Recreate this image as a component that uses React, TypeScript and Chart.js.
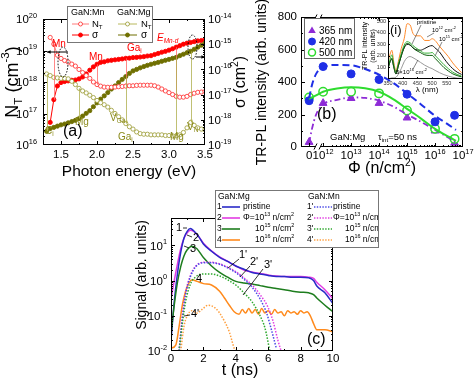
import React, { useEffect, useRef } from 'react';
import { Chart, registerables } from 'chart.js';

Chart.register(...registerables);

const FONT = "'Liberation Sans', Arial, Helvetica, sans-serif";

/* ---------------- Panel (a) data ---------------- */
const ENERGY = [1.30, 1.35, 1.40, 1.45, 1.50, 1.55, 1.60, 1.65, 1.70, 1.75, 1.80, 1.85, 1.90, 1.95, 2.00, 2.05, 2.10, 2.15, 2.20, 2.25, 2.30, 2.35, 2.40, 2.45, 2.50, 2.55, 2.60, 2.65, 2.70, 2.75, 2.80, 2.85, 2.90, 2.95, 3.00, 3.05, 3.10, 3.15, 3.20, 3.25, 3.30, 3.35, 3.40, 3.45, 3.50];
const MN_NT = [null, 2.6e19, 1.6e19, 7.1e18, 5.6e18, 4.8e18, 4.3e18, 3.7e18, 3.2e18, 2.5e18, 2.0e18, 1.6e18, 1.3e18, 1.0e18, 8.3e17, 7.4e17, 6.9e17, 6.8e17, 6.8e17, 6.9e17, 7.1e17, 7.2e17, 7.4e17, 7.6e17, 7.6e17, 7.8e17, 7.9e17, 7.9e17, 7.9e17, 7.9e17, 7.6e17, 6.9e17, 6.0e17, 5.2e17, 4.6e17, 4.0e17, 3.5e17, 3.3e17, 3.3e17, 3.5e17, 4.0e17, 4.4e17, 4.7e17, 4.8e17, 5.0e17];
const MN_SIGMA = [null, 7.9e-19, 6.3e-18, 2.2e-17, 3.0e-17, 3.3e-17, 3.5e-17, 3.7e-17, 3.8e-17, 4.2e-17, 5.0e-17, 6.6e-17, 9.3e-17, 1.26e-16, 1.6e-16, 1.9e-16, 2.0e-16, 2.2e-16, 2.3e-16, 2.4e-16, 2.5e-16, 2.6e-16, 2.75e-16, 2.8e-16, 2.95e-16, 3.0e-16, 3.1e-16, 3.2e-16, 3.4e-16, 3.5e-16, 3.9e-16, 4.3e-16, 4.8e-16, 5.2e-16, 5.8e-16, 6.6e-16, 7.6e-16, 8.7e-16, 1.0e-15, 1.1e-15, 1.17e-15, 1.26e-15, 1.35e-15, 1.4e-15, 1.48e-15];
const MG_NT = [1.8e18, 1.6e18, 1.4e18, 1.35e18, 1.3e18, 1.3e18, 1.26e18, 1.05e18, 8.3e17, 6.3e17, 5.2e17, 4.5e17, 3.8e17, 3.2e17, 2.6e17, 2.2e17, 1.9e17, 1.6e17, 1.26e17, 1.0e17, 7.9e16, 6.3e16, 4.8e16, 3.8e16, 3.2e16, 2.6e16, 2.3e16, 2.2e16, 2.2e16, 2.1e16, 2.1e16, 2.1e16, 2.1e16, 2.0e16, 2.0e16, 1.95e16, 1.95e16, 2.1e16, 2.5e16, 3.5e16, 5.2e16, 4.2e16, 3.5e16, 3.2e16, 3.0e16];
const MG_SIGMA = [3.5e-19, 4.5e-19, 5.0e-19, 5.6e-19, 6.3e-19, 6.8e-19, 7.6e-19, 8.5e-19, 9.5e-19, 1.12e-18, 1.4e-18, 1.8e-18, 2.3e-18, 3.3e-18, 4.7e-18, 6.6e-18, 8.9e-18, 1.2e-17, 1.66e-17, 2.2e-17, 3.0e-17, 4.0e-17, 5.2e-17, 6.9e-17, 8.7e-17, 1.0e-16, 1.15e-16, 1.3e-16, 1.45e-16, 1.6e-16, 1.75e-16, 1.9e-16, 2.1e-16, 2.3e-16, 2.5e-16, 2.75e-16, 3.0e-16, 3.5e-16, 4.0e-16, 4.6e-16, 5.2e-16, 6.3e-16, 7.6e-16, 9.1e-16, 1.1e-15];
const A_X_TICKS = [1.5, 2.0, 2.5, 3.0, 3.5];
const A_X_LABELS = ['1.5', '2.0', '2.5', '3.0', '3.5'];
const A_Y_TICKS = [1e16, 1e17, 1e18, 1e19, 1e20];
const A_Y_LABELS = ['10^{16}', '10^{17}', '10^{18}', '10^{19}', '10^{20}'];
const A_Y2_TICKS = [1e-19, 1e-18, 1e-17, 1e-16, 1e-15, 1e-14];
const A_Y2_LABELS = ['10^{-19}', '10^{-18}', '10^{-17}', '10^{-16}', '10^{-15}', '10^{-14}'];

/* ---------------- Panel (b) data ---------------- */
const FLUENCE = [0, 1e12, 1e13, 1e14, 1e15, 1e16, 5e16];
const PL_365 = [30, 270, 300, 270, 180, 100, 25];
const PL_420 = [285, 495, 450, 415, 325, 155, 195];
const PL_500 = [305, 340, 340, 330, 225, 112, 50];
// fitted guide curves, x = log10(fluence); 11.5 is where fluence 0 sits on the broken axis
const FIT_LOG_PHI = [11.5, 11.6, 11.75, 12, 12.5, 13, 13.5, 14, 14.5, 15, 15.5, 16, 16.5, 16.75];
const FIT_365 = [25, 110, 200, 262, 290, 305, 302, 285, 250, 200, 155, 105, 55, 25];
const FIT_420 = [300, 380, 450, 492, 505, 503, 480, 445, 395, 330, 262, 192, 135, 105];
const FIT_500 = [295, 305, 318, 340, 360, 368, 362, 340, 295, 235, 175, 112, 62, 38];
const PHI_TICKS = [0, 1e12, 1e13, 1e14, 1e15, 1e16, 1e17];
const PHI_LABELS = ['0', '10^{12}', '10^{13}', '10^{14}', '10^{15}', '10^{16}', '10^{17}'];
const PL_TICKS = [0, 200, 400, 600, 800];
const ZERO_POS = 11.5;
const phiPos = (p: number) => (p === 0 ? ZERO_POS : Math.log10(p));

/* ---------------- Inset (i) data ---------------- */
const LAMBDA = [350, 357, 363, 370, 377, 385, 395, 405, 415, 425, 435, 445, 460, 475, 490, 500, 510, 525, 540, 555, 570, 585, 600];
const SPEC_1E12 = [150, 215, 250, 140, 70, 150, 265, 350, 480, 470, 395, 375, 375, 335, 335, 350, 335, 285, 240, 195, 140, 95, 55];
const SPEC_1E15 = [90, 150, 170, 100, 45, 110, 200, 270, 300, 295, 270, 255, 250, 265, 285, 290, 270, 235, 180, 130, 90, 60, 40];
const SPEC_PRISTINE = [100, 170, 210, 120, 60, 130, 220, 295, 325, 315, 290, 270, 245, 225, 225, 230, 205, 165, 125, 90, 60, 40, 25];
const SPEC_PRISTINE_B = [85, 150, 180, 100, 45, 115, 200, 275, 310, 300, 270, 250, 230, 210, 205, 205, 180, 140, 100, 70, 45, 30, 18];
const SPEC_5E16 = [0, 5, 10, 10, 15, 40, 90, 150, 185, 195, 185, 170, 145, 120, 100, 90, 75, 55, 38, 25, 15, 8, 4];
const LAMBDA_TICKS = [350, 400, 450, 500, 550];
const INSET_Y_TICKS = [100, 200, 300, 400, 500];

/* ---------------- Panel (c) data ---------------- */
const T_MG_1 = [0, 0.2, 0.4, 0.6, 0.8, 1.0, 1.2, 1.4, 1.7, 2.0, 2.5, 3.0, 3.5, 4.0, 4.5, 5.0, 5.5, 6.0, 6.5, 7.0, 7.5, 8.0, 8.5, 8.8, 9.0, 9.5, 10];
const S_MG_1 = [0.02, 0.25, 1.6, 6.3, 16, 25, 30, 26, 18, 11, 6.8, 4.6, 3.5, 2.6, 2.1, 1.7, 1.55, 1.4, 1.3, 1.3, 1.25, 1.25, 1.2, 1.0, 0.7, 0.45, 0.22];
const T_MG_2 = [0, 0.2, 0.4, 0.6, 0.8, 1.0, 1.2, 1.4, 1.7, 2.0, 2.5, 3.0, 3.5, 4.0, 4.5, 5.0, 5.5, 6.0, 6.5, 7.0, 7.5, 8.0, 8.5, 8.8, 9.0, 9.5, 10];
const S_MG_2 = [0.3, 1.0, 3.0, 8, 16, 23, 27, 25, 18, 11.5, 7, 4.7, 3.5, 2.6, 2.0, 1.75, 1.6, 1.45, 1.35, 1.3, 1.3, 1.3, 1.25, 1.15, 0.9, 0.55, 0.3];
const T_MG_3 = [0, 0.2, 0.4, 0.6, 0.8, 1.0, 1.3, 1.6, 2.0, 2.5, 3.0, 3.5, 4.0, 4.5, 5.0, 5.5, 6.0, 6.5, 7.0, 7.5, 8.0, 8.5, 8.8, 9.0, 9.5, 10];
const S_MG_3 = [0.03, 0.2, 0.9, 2.5, 5, 7.5, 9.5, 8, 4.5, 2.6, 1.7, 1.25, 0.95, 0.85, 0.8, 0.72, 0.65, 0.6, 0.55, 0.5, 0.47, 0.45, 0.4, 0.32, 0.2, 0.13];
const T_MG_4 = [0, 0.3, 0.5, 0.7, 0.9, 1.1, 1.3, 1.6, 2.0, 2.5, 3.0, 3.3, 3.6, 3.9, 4.2, 4.4, 4.6, 4.8, 5.0, 5.2, 5.4, 5.6, 5.8, 6.0, 6.2, 6.4, 6.6, 6.8, 7.0, 7.2, 7.4, 7.6, 7.8, 8.0, 8.2, 8.4, 8.6, 8.8, 9.0, 9.5, 10];
const S_MG_4 = [0.012, 0.015, 0.05, 0.2, 0.5, 0.85, 1.05, 0.95, 0.82, 0.75, 0.5, 0.32, 0.2, 0.13, 0.11, 0.15, 0.12, 0.16, 0.12, 0.15, 0.11, 0.16, 0.12, 0.14, 0.11, 0.15, 0.12, 0.13, 0.1, 0.14, 0.12, 0.13, 0.11, 0.14, 0.12, 0.13, 0.1, 0.06, 0.04, 0.04, 0.035];
const T_MN_1 = [0.5, 0.7, 0.9, 1.2, 1.5, 2.0, 2.5, 3.0, 3.5, 4.0, 4.5, 5.0, 5.5, 5.9, 6.2, 6.5];
const S_MN_1 = [0.01, 0.08, 0.4, 1.3, 2.4, 3.2, 3.2, 2.9, 2.3, 1.7, 1.1, 0.65, 0.3, 0.12, 0.04, 0.012];
const T_MN_2 = [0.5, 0.7, 0.9, 1.2, 1.5, 2.0, 2.5, 3.0, 3.5, 4.0, 4.5, 5.0, 5.5, 6.0, 6.3, 6.6, 6.8];
const S_MN_2 = [0.01, 0.1, 0.45, 1.4, 2.5, 3.3, 3.3, 3.0, 2.4, 1.8, 1.2, 0.75, 0.4, 0.17, 0.07, 0.02, 0.01];
const T_MN_3 = [0.5, 0.7, 0.9, 1.2, 1.5, 2.0, 2.5, 3.0, 3.5, 4.0, 4.5, 5.0, 5.5, 5.8, 6.1];
const S_MN_3 = [0.01, 0.06, 0.25, 0.8, 1.25, 1.55, 1.55, 1.35, 1.05, 0.75, 0.45, 0.25, 0.1, 0.045, 0.01];
const T_MN_4 = [0.6, 0.8, 1.0, 1.3, 1.6, 1.9, 2.3, 2.7, 3.0, 3.3, 3.6, 3.9, 4.0];
const S_MN_4 = [0.01, 0.05, 0.1, 0.14, 0.12, 0.15, 0.2, 0.17, 0.12, 0.07, 0.035, 0.012, 0.01];
const C_X_TICKS = [0, 2, 4, 6, 8, 10];
const C_Y_TICKS = [0.01, 0.1, 1, 10];
const C_Y_LABELS = ['10^{-2}', '10^{-1}', '10^{0}', '10^{1}'];

/* ---------------- colours ---------------- */
const RED = '#ff0000';
const RED_LIGHT = '#ff7a7a';
const RED_OPEN = '#ff3c3c';
const OLIVE = '#6f6f00';
const OLIVE_LIGHT = '#b8b85c';
const OLIVE_OPEN = '#a3a343';
const OLIVE_TEXT = '#8a8a1a';
const PURPLE = '#8e2bd6';
const BLUE_B = '#1f2fe6';
const GREEN_B = '#2fdc2f';
const C_BLUE = '#2a2ac8';
const C_MAG = '#e23ce2';
const C_GREEN = '#1d7d1d';
const C_ORANGE = '#ff8a1c';

/* ---------------- helpers ---------------- */
function fnt(size: number, italic = false) {
  return `${italic ? 'italic ' : ''}${size}px ${FONT}`;
}

function parseRich(s: string): [string, number][] {
  const out: [string, number][] = [];
  let buf = '';
  let i = 0;
  while (i < s.length) {
    const c = s[i];
    if ((c === '^' || c === '_') && s[i + 1] === '{') {
      if (buf) { out.push([buf, 0]); buf = ''; }
      const j = s.indexOf('}', i);
      out.push([s.slice(i + 2, j), c === '^' ? 1 : -1]);
      i = j + 1;
    } else { buf += c; i++; }
  }
  if (buf) out.push([buf, 0]);
  return out;
}

function rich(ctx: any, s: string, x: number, y: number, size: number, align = 'left', color = '#000', rot = 0, italic = false) {
  const segs = parseRich(s);
  ctx.save();
  ctx.translate(x, y);
  if (rot) ctx.rotate(rot);
  ctx.textBaseline = 'middle';
  ctx.textAlign = 'left';
  ctx.fillStyle = color;
  const ws = segs.map(([t, m]) => { ctx.font = fnt(m ? size * 0.64 : size, italic); return ctx.measureText(t).width; });
  const total = ws.reduce((a, b) => a + b, 0);
  let cx = align === 'left' ? 0 : align === 'center' ? -total / 2 : -total;
  segs.forEach(([t, m], k) => {
    ctx.font = fnt(m ? size * 0.64 : size, italic);
    const dy = m === 1 ? -size * 0.38 : m === -1 ? size * 0.3 : 0;
    ctx.fillText(t, cx, dy);
    cx += ws[k];
  });
  ctx.restore();
}

function frame(ctx: any, ca: any) {
  ctx.save();
  ctx.strokeStyle = '#000';
  ctx.lineWidth = 1;
  ctx.strokeRect(Math.round(ca.left) + 0.5, Math.round(ca.top) + 0.5, Math.round(ca.right - ca.left) - 1, Math.round(ca.bottom - ca.top) - 1);
  ctx.restore();
}

function ticksX(ctx: any, sc: any, ca: any, vals: number[], len: number, top = true) {
  ctx.save();
  ctx.strokeStyle = '#000';
  ctx.lineWidth = 1;
  ctx.beginPath();
  for (const v of vals) {
    const x = Math.round(sc.getPixelForValue(v)) + 0.5;
    if (x < ca.left || x > ca.right) continue;
    ctx.moveTo(x, ca.bottom); ctx.lineTo(x, ca.bottom - len);
    if (top) { ctx.moveTo(x, ca.top); ctx.lineTo(x, ca.top + len); }
  }
  ctx.stroke();
  ctx.restore();
}

function ticksY(ctx: any, sc: any, ca: any, vals: number[], len: number, left = true, right = true) {
  ctx.save();
  ctx.strokeStyle = '#000';
  ctx.lineWidth = 1;
  ctx.beginPath();
  for (const v of vals) {
    const y = Math.round(sc.getPixelForValue(v)) + 0.5;
    if (y < ca.top || y > ca.bottom) continue;
    if (left) { ctx.moveTo(ca.left, y); ctx.lineTo(ca.left + len, y); }
    if (right) { ctx.moveTo(ca.right, y); ctx.lineTo(ca.right - len, y); }
  }
  ctx.stroke();
  ctx.restore();
}

function logMinors(d0: number, d1: number) {
  const out: number[] = [];
  for (let d = d0; d < d1; d++) for (let k = 2; k < 10; k++) out.push(k * Math.pow(10, d));
  return out;
}

function arrow(ctx: any, x1: number, y1: number, x2: number, y2: number, h = 3) {
  ctx.beginPath(); ctx.moveTo(x1, y1); ctx.lineTo(x2, y2); ctx.stroke();
  const a = Math.atan2(y2 - y1, x2 - x1);
  ctx.beginPath();
  ctx.moveTo(x2, y2);
  ctx.lineTo(x2 - h * Math.cos(a - 0.45), y2 - h * Math.sin(a - 0.45));
  ctx.lineTo(x2 - h * Math.cos(a + 0.45), y2 - h * Math.sin(a + 0.45));
  ctx.closePath();
  ctx.fill();
}

function line(ctx: any, x1: number, y1: number, x2: number, y2: number, color = '#000', w = 0.8, dash: number[] = []) {
  ctx.save();
  ctx.strokeStyle = color; ctx.lineWidth = w; ctx.setLineDash(dash);
  ctx.beginPath(); ctx.moveTo(x1, y1); ctx.lineTo(x2, y2); ctx.stroke();
  ctx.restore();
}

function dot(ctx: any, x: number, y: number, r: number, fill: string, stroke: string, lw = 1) {
  ctx.save();
  ctx.beginPath(); ctx.arc(x, y, r, 0, Math.PI * 2);
  ctx.fillStyle = fill; ctx.fill();
  ctx.strokeStyle = stroke; ctx.lineWidth = lw; ctx.stroke();
  ctx.restore();
}

const HIDDEN = { grid: { display: false, drawTicks: false }, border: { display: false }, ticks: { display: false } };
const BASE = { animation: false, responsive: false, events: [], plugins: { legend: { display: false }, tooltip: { enabled: false } } };

/* ---------------- Panel (a) ---------------- */
function seriesA(vals: any[], axis: string, lineColor: string, border: string, fill: string) {
  return {
    data: ENERGY.map((x, i) => ({ x, y: vals[i] })).filter((p) => p.y != null),
    yAxisID: axis, borderColor: lineColor, borderWidth: 1, pointRadius: 2.1, pointBorderWidth: 0.9,
    pointBackgroundColor: fill, pointBorderColor: border, pointStyle: 'circle', tension: 0, fill: false,
  };
}

function drawA(chart: any) {
  const ctx = chart.ctx, ca = chart.chartArea;
  const sx = chart.scales.x, sy = chart.scales.y, sy2 = chart.scales.y2;
  const marks = [
    { e: 1.40, a: MN_NT, aa: sy, b: MN_SIGMA, bb: sy2, c: '#ff6a6a' },
    { e: 2.00, a: MN_SIGMA, aa: sy2, b: MN_NT, bb: sy, c: '#ff6a6a' },
    { e: 2.40, a: MN_SIGMA, aa: sy2, b: MN_NT, bb: sy, c: '#ff6a6a' },
    { e: 3.10, a: MN_SIGMA, aa: sy2, b: MN_NT, bb: sy, c: '#ff6a6a' },
    { e: 1.30, a: MG_NT, aa: sy, b: MG_SIGMA, bb: sy2, c: '#b0b050' },
    { e: 1.75, a: MG_NT, aa: sy, b: MG_SIGMA, bb: sy2, c: '#b0b050' },
    { e: 2.40, a: MG_SIGMA, aa: sy2, b: MG_NT, bb: sy, c: '#b0b050' },
    { e: 3.10, a: MG_SIGMA, aa: sy2, b: MG_NT, bb: sy, c: '#b0b050' },
    { e: 3.30, a: MG_SIGMA, aa: sy2, b: MG_NT, bb: sy, c: '#b0b050' },
  ];
  ctx.save();
  ctx.lineWidth = 0.8;
  marks.forEach((m) => {
    const k = ENERGY.indexOf(m.e);
    const x = Math.round(sx.getPixelForValue(m.e)) + 0.5;
    const y1 = m.aa.getPixelForValue(m.a[k]);
    const y2 = m.bb.getPixelForValue(m.b[k]);
    ctx.strokeStyle = m.c; ctx.fillStyle = m.c;
    arrow(ctx, x, y1, x, y2, 3);
  });
  ctx.restore();

  frame(ctx, ca);
  ticksX(ctx, sx, ca, A_X_TICKS, 4);
  ticksX(ctx, sx, ca, [1.25, 1.75, 2.25, 2.75, 3.25], 2);
  ticksY(ctx, sy, ca, A_Y_TICKS, 4, true, false);
  ticksY(ctx, sy, ca, logMinors(16, 20), 2, true, false);
  ticksY(ctx, sy2, ca, A_Y2_TICKS, 4, false, true);
  ticksY(ctx, sy2, ca, logMinors(-19, -14), 2, false, true);

  A_X_TICKS.forEach((v, k) => rich(ctx, A_X_LABELS[k], sx.getPixelForValue(v), ca.bottom + 10, 11.5, 'center'));
  A_Y_TICKS.forEach((v, k) => rich(ctx, A_Y_LABELS[k], ca.left - 6, sy.getPixelForValue(v) + 1, 11.5, 'right'));
  A_Y2_TICKS.forEach((v, k) => rich(ctx, A_Y2_LABELS[k], ca.right + 3, sy2.getPixelForValue(v) + 1, 11.5, 'left'));

  rich(ctx, 'Photon energy (eV)', 129, 172, 15.5, 'center');
  rich(ctx, 'N_{T} (cm^{-3})', 13, 82, 18, 'center', '#000', -Math.PI / 2);
  rich(ctx, 'σ (cm^{2})', 241, 82, 16, 'center', '#000', -Math.PI / 2);

  // annotation labels
  rich(ctx, 'Mn', 52, 44, 10, 'left', RED);
  rich(ctx, 'Mn', 89, 57, 10, 'left', RED);
  rich(ctx, 'Ga_{i}', 127, 48, 10, 'left', RED);
  rich(ctx, 'E_{Mn-d}', 157, 38, 10, 'left', RED, 0, true);
  rich(ctx, 'C_{i}', 45, 131, 10, 'left', OLIVE_TEXT);
  rich(ctx, 'Mg', 75, 122, 10, 'left', OLIVE_TEXT);
  rich(ctx, 'V_{Ga}', 110, 118, 10, 'left', OLIVE_TEXT);
  rich(ctx, 'Ga_{i}', 118, 137, 10, 'left', OLIVE_TEXT);
  rich(ctx, 'Mg', 170, 137, 10, 'left', OLIVE_TEXT);
  rich(ctx, 'V_{N}', 187, 127, 10, 'left', OLIVE_TEXT);
  rich(ctx, '(a)', 63, 132, 16, 'left');

  // axis-pointing arrows and dotted ellipses
  ctx.save();
  ctx.strokeStyle = '#000'; ctx.fillStyle = '#000'; ctx.lineWidth = 1;
  arrow(ctx, 68, 52, 47, 52, 4);
  arrow(ctx, 196, 57, 205, 57, 4);
  ctx.setLineDash([1.5, 1.5]);
  ctx.beginPath(); ctx.ellipse(63, 62, 5, 15, 0, 0, Math.PI * 2); ctx.stroke();
  ctx.beginPath(); ctx.ellipse(192.5, 47, 4.5, 12, 0, 0, Math.PI * 2); ctx.stroke();
  ctx.restore();

  // legend
  ctx.save();
  ctx.fillStyle = '#fff'; ctx.fillRect(67, 6, 85, 36);
  ctx.strokeStyle = '#777'; ctx.lineWidth = 1; ctx.strokeRect(67.5, 6.5, 85, 36);
  ctx.restore();
  rich(ctx, 'GaN:Mn', 71, 13, 9);
  rich(ctx, 'GaN:Mg', 117, 13, 9);
  line(ctx, 72, 24, 89, 24, RED_LIGHT, 1);
  dot(ctx, 80.5, 24, 2, '#fff', RED_OPEN, 0.9);
  rich(ctx, 'N_{T}', 92, 24, 9.5);
  line(ctx, 118, 24, 137, 24, OLIVE_LIGHT, 1);
  dot(ctx, 127.5, 24, 2, '#fff', OLIVE_OPEN, 0.9);
  rich(ctx, 'N_{T}', 141, 24, 9.5);
  line(ctx, 72, 35, 89, 35, RED, 1);
  dot(ctx, 80.5, 35, 2, RED, RED, 0.9);
  rich(ctx, 'σ', 92, 35, 10);
  line(ctx, 118, 35, 137, 35, OLIVE, 1);
  dot(ctx, 127.5, 35, 2, OLIVE, OLIVE, 0.9);
  rich(ctx, 'σ', 141, 35, 10);
}

function makeA(canvas: any) {
  return new Chart(canvas, {
    type: 'line',
    data: {
      datasets: [
        seriesA(MG_NT, 'y', OLIVE_LIGHT, OLIVE_OPEN, '#ffffff'),
        seriesA(MN_NT, 'y', RED_LIGHT, RED_OPEN, '#ffffff'),
        seriesA(MG_SIGMA, 'y2', OLIVE, OLIVE, OLIVE),
        seriesA(MN_SIGMA, 'y2', RED, RED, RED),
      ] as any,
    },
    options: {
      ...BASE,
      layout: { padding: { top: 19, left: 0, right: 0, bottom: 0 } },
      scales: {
        x: { type: 'linear', position: 'bottom', min: 1.25, max: 3.5, ...HIDDEN, afterFit: (s: any) => { s.height = 45; } },
        y: { type: 'logarithmic', position: 'left', min: 1e16, max: 1e20, ...HIDDEN, afterFit: (s: any) => { s.width = 43; } },
        y2: { type: 'logarithmic', position: 'right', min: 1e-19, max: 1e-14, ...HIDDEN, afterFit: (s: any) => { s.width = 45; } },
      },
    } as any,
    plugins: [{ id: 'panelA', afterDraw: drawA }],
  });
}

/* ---------------- Panel (b) ---------------- */
function tri(ctx: any, x: number, y: number, r: number, color: string) {
  ctx.save();
  ctx.beginPath();
  ctx.moveTo(x, y - r); ctx.lineTo(x + r * 0.95, y + r * 0.65); ctx.lineTo(x - r * 0.95, y + r * 0.65);
  ctx.closePath(); ctx.fillStyle = color; ctx.fill();
  ctx.restore();
}

function drawB(chart: any) {
  const ctx = chart.ctx, ca = chart.chartArea;
  const sx = chart.scales.x, sy = chart.scales.y;
  frame(ctx, ca);
  ticksX(ctx, sx, ca, PHI_TICKS.map(phiPos), 4);
  const minX: number[] = [];
  for (let d = 12; d < 17; d++) for (let k = 2; k < 10; k++) minX.push(d + Math.log10(k));
  ticksX(ctx, sx, ca, minX, 2);
  ticksY(ctx, sy, ca, PL_TICKS, 4);
  ticksY(ctx, sy, ca, [100, 300, 500, 700], 2);

  // axis break marks
  const bx = Math.round(sx.getPixelForValue(11.82));
  ctx.save();
  ctx.fillStyle = '#fff';
  ctx.fillRect(bx - 3, ca.top - 3, 6, 7);
  ctx.fillRect(bx - 3, ca.bottom - 4, 6, 7);
  ctx.strokeStyle = '#000'; ctx.lineWidth = 1;
  ctx.beginPath();
  for (const yy of [ca.top + 0.5, ca.bottom - 0.5]) {
    ctx.moveTo(bx - 4, yy + 3); ctx.lineTo(bx - 1, yy - 3);
    ctx.moveTo(bx + 1, yy + 3); ctx.lineTo(bx + 4, yy - 3);
  }
  ctx.stroke();
  ctx.restore();

  PHI_TICKS.forEach((p, k) => rich(ctx, PHI_LABELS[k], sx.getPixelForValue(phiPos(p)), ca.bottom + 9, 11.5, 'center'));
  PL_TICKS.forEach((v) => rich(ctx, String(v), ca.left - 4, sy.getPixelForValue(v), 11.5, 'right'));
  rich(ctx, 'TR-PL intensity (arb. units)', 22, 82, 14, 'center', '#000', -Math.PI / 2);
  rich(ctx, 'Φ (n/cm^{2})', 142, 169, 16, 'center');
  rich(ctx, '(b)', 77, 115, 16, 'left');
  rich(ctx, 'GaN:Mg', 90, 137, 9.5, 'left');
  rich(ctx, 'τ_{int}=50 ns', 138, 137, 9.5, 'left');

  // legend
  ctx.save();
  ctx.fillStyle = '#fff'; ctx.fillRect(64, 18, 50, 40);
  ctx.strokeStyle = '#666'; ctx.lineWidth = 1; ctx.strokeRect(64.5, 18.5, 50, 40);
  ctx.restore();
  tri(ctx, 72, 30.5, 4, PURPLE);
  rich(ctx, '365 nm', 79, 31, 10);
  dot(ctx, 72, 41.5, 3.5, BLUE_B, BLUE_B, 1);
  rich(ctx, '420 nm', 79, 42, 10);
  dot(ctx, 72, 52.5, 3.5, '#fff', GREEN_B, 1.5);
  rich(ctx, '500 nm', 79, 53, 10);
}

function makeB(canvas: any) {
  const pts = (vals: number[]) => FLUENCE.map((p, i) => ({ x: phiPos(p), y: vals[i] }));
  const fit = (vals: number[]) => FIT_LOG_PHI.map((x, i) => ({ x, y: vals[i] }));
  return new Chart(canvas, {
    type: 'line',
    data: {
      datasets: [
        { data: fit(FIT_420), borderColor: BLUE_B, borderWidth: 2, borderDash: [7, 4], pointRadius: 0, cubicInterpolationMode: 'monotone' },
        { data: fit(FIT_500), borderColor: GREEN_B, borderWidth: 2, pointRadius: 0, cubicInterpolationMode: 'monotone' },
        { data: fit(FIT_365), borderColor: PURPLE, borderWidth: 1.8, borderDash: [6, 3, 1.5, 3], pointRadius: 0, cubicInterpolationMode: 'monotone' },
        { data: pts(PL_420), showLine: false, pointStyle: 'circle', pointRadius: 4, pointBackgroundColor: BLUE_B, pointBorderColor: BLUE_B, pointBorderWidth: 1 },
        { data: pts(PL_500), showLine: false, pointStyle: 'circle', pointRadius: 4.2, pointBackgroundColor: '#fff', pointBorderColor: GREEN_B, pointBorderWidth: 1.5 },
        { data: pts(PL_365), showLine: false, pointStyle: 'triangle', pointRadius: 4.5, pointBackgroundColor: PURPLE, pointBorderColor: PURPLE, pointBorderWidth: 1 },
      ] as any,
    },
    options: {
      ...BASE,
      layout: { padding: { top: 17, left: 0, right: 11, bottom: 0 } },
      scales: {
        x: { type: 'linear', position: 'bottom', min: 11.21, max: 17, ...HIDDEN, afterFit: (s: any) => { s.height = 43; } },
        y: { type: 'linear', position: 'left', min: 0, max: 800, ...HIDDEN, afterFit: (s: any) => { s.width = 61; } },
      },
    } as any,
    plugins: [{ id: 'panelB', afterDraw: drawB }],
  });
}

/* ---------------- Inset (i) ---------------- */
function drawInset(chart: any) {
  const ctx = chart.ctx, ca = chart.chartArea;
  const sx = chart.scales.x, sy = chart.scales.y;
  frame(ctx, ca);
  ticksX(ctx, sx, ca, LAMBDA_TICKS, 2);
  ticksY(ctx, sy, ca, INSET_Y_TICKS, 2);
  LAMBDA_TICKS.forEach((v) => rich(ctx, String(v), sx.getPixelForValue(v), ca.bottom + 4, 5.5, 'center', '#333'));
  INSET_Y_TICKS.forEach((v) => rich(ctx, String(v), ca.left - 2, sy.getPixelForValue(v), 5.5, 'right', '#333'));
  rich(ctx, 'λ (nm)', 72, 90, 8, 'center');
  rich(ctx, 'TR-PL intensity', 10, 46, 7, 'center', '#000', -Math.PI / 2);
  rich(ctx, '(arb. units)', 18.5, 46, 7, 'center', '#000', -Math.PI / 2);
  rich(ctx, '(i)', 35, 30, 13, 'left');
  rich(ctx, 'pristine', 62, 22, 6, 'left');
  rich(ctx, '10^{12} cm^{-2}', 77, 30, 6, 'left');
  rich(ctx, '10^{15} cm^{-2}', 84, 39, 6, 'left');
  rich(ctx, '5×10^{16} cm^{-2}', 41, 72, 6, 'left');
  line(ctx, 66, 25, 57, 44, '#333', 0.6);
  line(ctx, 79, 33, 72, 37, '#333', 0.6);
  line(ctx, 87, 42, 80, 56, '#333', 0.6);
  line(ctx, 58, 69, 63, 60, '#333', 0.6);
}

function makeInset(canvas: any) {
  const spec = (vals: number[], color: string) => ({
    data: LAMBDA.map((x, i) => ({ x, y: vals[i] })), borderColor: color, borderWidth: 1, pointRadius: 0, cubicInterpolationMode: 'monotone',
  });
  return new Chart(canvas, {
    type: 'line',
    data: {
      datasets: [
        spec(SPEC_5E16, '#9a9a9a'),
        spec(SPEC_PRISTINE_B, '#0b5e0b'),
        spec(SPEC_PRISTINE, '#3cb43c'),
        spec(SPEC_1E15, '#111111'),
        spec(SPEC_1E12, '#ff8a2a'),
      ] as any,
    },
    options: {
      ...BASE,
      layout: { padding: { top: 18, left: 0, right: 11, bottom: 0 } },
      scales: {
        x: { type: 'linear', position: 'bottom', min: 350, max: 605, ...HIDDEN, afterFit: (s: any) => { s.height = 21; } },
        y: { type: 'linear', position: 'left', min: 0, max: 530, ...HIDDEN, afterFit: (s: any) => { s.width = 33; } },
      },
    } as any,
    plugins: [{
      id: 'inset',
      beforeDatasetsDraw(chart: any) {
        const ca = chart.chartArea;
        chart.ctx.save(); chart.ctx.fillStyle = '#fff';
        chart.ctx.fillRect(ca.left, ca.top, ca.right - ca.left, ca.bottom - ca.top);
        chart.ctx.restore();
      },
      afterDraw: drawInset,
    }],
  });
}

/* ---------------- Panel (c) ---------------- */
function drawC(chart: any) {
  const ctx = chart.ctx, ca = chart.chartArea;
  const sx = chart.scales.x, sy = chart.scales.y;
  frame(ctx, ca);
  ticksX(ctx, sx, ca, C_X_TICKS, 4);
  ticksX(ctx, sx, ca, [1, 3, 5, 7, 9], 2);
  ticksY(ctx, sy, ca, C_Y_TICKS, 4);
  ticksY(ctx, sy, ca, logMinors(-2, 2), 2);
  C_X_TICKS.forEach((v) => rich(ctx, String(v), sx.getPixelForValue(v), ca.bottom + 8, 11.5, 'center'));
  C_Y_TICKS.forEach((v, k) => rich(ctx, C_Y_LABELS[k], ca.left - 4, sy.getPixelForValue(v) + 1, 11.5, 'right'));
  rich(ctx, 'Signal (arb. units)', 42, 90, 14, 'center', '#000', -Math.PI / 2);
  rich(ctx, 't (ns)', 140, 186, 16, 'center');
  rich(ctx, '(c)', 207, 155, 16, 'left');

  // curve labels
  rich(ctx, '1', 76, 43, 11);
  line(ctx, 83, 43, 87, 43, '#000', 0.8);
  rich(ctx, '2', 93, 53, 11);
  line(ctx, 87, 50, 92, 52, '#000', 0.8);
  rich(ctx, '3', 90, 64, 11);
  line(ctx, 84, 61, 89, 63, '#000', 0.8);
  rich(ctx, '4', 96, 94, 11);
  rich(ctx, "4'", 91, 129, 11);
  line(ctx, 84, 131, 90, 130, '#000', 0.8);
  rich(ctx, "1'", 139, 70, 11);
  line(ctx, 139, 74, 128, 83, '#000', 0.8);
  rich(ctx, "2'", 150, 77, 11);
  line(ctx, 150, 81, 140, 92, '#000', 0.8);
  rich(ctx, "3'", 164, 80, 11);
  line(ctx, 163, 84, 143, 110, '#000', 0.8);

  // legend
  ctx.save();
  ctx.fillStyle = '#fff'; ctx.fillRect(115, 5, 163, 57);
  ctx.strokeStyle = '#777'; ctx.lineWidth = 1; ctx.strokeRect(115.5, 5.5, 163, 57);
  ctx.beginPath(); ctx.rect(116, 6, 162, 56); ctx.clip();
  rich(ctx, 'GaN:Mg', 118, 12, 8.5);
  rich(ctx, 'GaN:Mn', 208, 12, 8.5);
  const rows = [
    { y: 22, n: '1', c: C_BLUE, dc: '#4a4ae6', t: 'pristine', tx: 143, tx2: 233 },
    { y: 33, n: '2', c: C_MAG, dc: C_MAG, t: 'Φ=10^{13} n/cm^{2}', tx: 143, tx2: 233 },
    { y: 44, n: '3', c: C_GREEN, dc: '#2ca82c', t: '10^{15} n/cm^{2}', tx: 155, tx2: 245 },
    { y: 55, n: '4', c: C_ORANGE, dc: '#ffa040', t: '10^{16} n/cm^{2}', tx: 155, tx2: 245 },
  ];
  rows.forEach((r) => {
    rich(ctx, r.n, 117, r.y, 8.5);
    line(ctx, 122, r.y, 140, r.y, r.c, 1.6);
    rich(ctx, r.t, r.tx, r.y, 8.5);
    rich(ctx, r.n + "'", 207, r.y, 8.5);
    line(ctx, 214, r.y, 232, r.y, r.dc, 1.4, [1.4, 1.4]);
    rich(ctx, r.t, r.tx2, r.y, 8.5);
  });
  ctx.restore();
}

function makeC(canvas: any) {
  const curve = (ts: number[], vals: number[], color: string, dash: number[] = [], w = 1.5) => ({
    data: ts.map((x, i) => ({ x, y: vals[i] })), borderColor: color, borderWidth: w, borderDash: dash,
    pointRadius: 0, cubicInterpolationMode: 'monotone',
  });
  return new Chart(canvas, {
    type: 'line',
    data: {
      datasets: [
        curve(T_MN_4, S_MN_4, '#ffa040', [1.5, 1.5]),
        curve(T_MN_3, S_MN_3, '#2ca82c', [1.5, 1.5]),
        curve(T_MN_1, S_MN_1, '#4a4ae6', [1.5, 1.5]),
        curve(T_MN_2, S_MN_2, C_MAG, [1.5, 1.5]),
        curve(T_MG_4, S_MG_4, C_ORANGE),
        curve(T_MG_3, S_MG_3, C_GREEN),
        curve(T_MG_1, S_MG_1, C_BLUE),
        curve(T_MG_2, S_MG_2, C_MAG),
      ] as any,
    },
    options: {
      ...BASE,
      layout: { padding: { top: 33, left: 0, right: 67, bottom: 0 } },
      scales: {
        x: { type: 'linear', position: 'bottom', min: 0, max: 10, ...HIDDEN, afterFit: (s: any) => { s.height = 30; } },
        y: { type: 'logarithmic', position: 'left', min: 0.01, max: 60, ...HIDDEN, afterFit: (s: any) => { s.width = 71; } },
      },
    } as any,
    plugins: [{ id: 'panelC', afterDraw: drawC }],
  });
}

/* ---------------- App ---------------- */
export default function App() {
  const refA = useRef<HTMLCanvasElement>(null);
  const refB = useRef<HTMLCanvasElement>(null);
  const refI = useRef<HTMLCanvasElement>(null);
  const refC = useRef<HTMLCanvasElement>(null);
  useEffect(() => {
    const charts = [makeA(refA.current), makeB(refB.current), makeInset(refI.current), makeC(refC.current)];
    return () => charts.forEach((c) => c.destroy());
  }, []);
  const cv = (ref: any, l: number, t: number, w: number, h: number) => (
    <canvas ref={ref} width={w} height={h} style={{ position: 'absolute', left: l, top: t, width: w, height: h }} />
  );
  return (
    <div style={{ position: 'absolute', left: 0, top: 0, width: 474, height: 381, background: '#fff', overflow: 'hidden' }}>
      {cv(refA, 0, 0, 250, 190)}
      {cv(refB, 240, 0, 234, 190)}
      {cv(refI, 355, 0, 119, 100)}
      {cv(refC, 100, 185, 300, 196)}
    </div>
  );
}
